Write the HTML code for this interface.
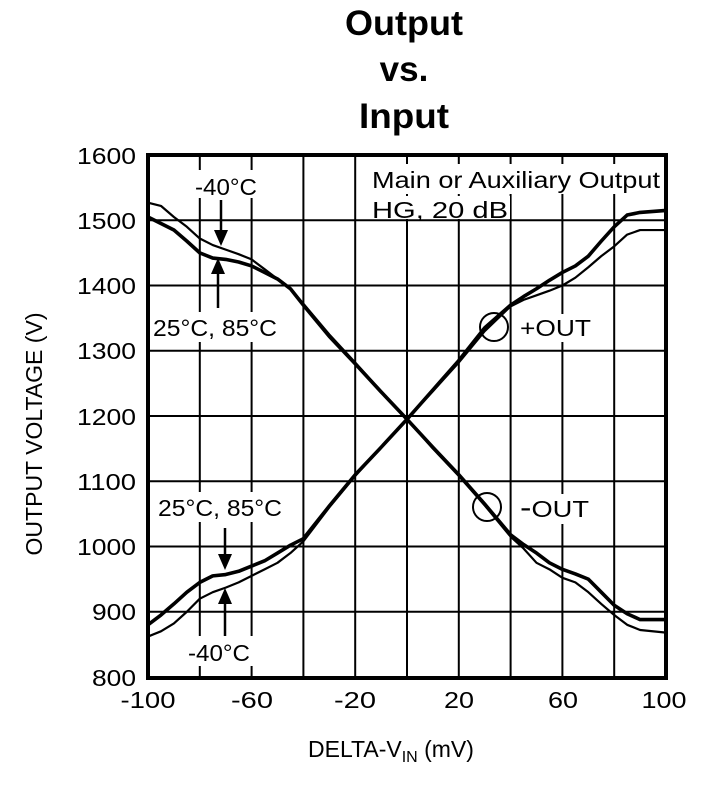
<!DOCTYPE html>
<html><head><meta charset="utf-8"><style>
body{margin:0;background:#fff;}
svg{display:block;font-family:"Liberation Sans","Noto Sans CJK JP",sans-serif;}
</style></head><body>
<svg width="707" height="799" viewBox="0 0 707 799" xmlns="http://www.w3.org/2000/svg">
<rect width="707" height="799" fill="#fff"/>
<g font-weight="bold" font-size="35" text-anchor="middle">
<text x="404" y="35" textLength="118" lengthAdjust="spacingAndGlyphs">Output</text>
<text x="404" y="81">vs.</text>
<text x="404" y="128" textLength="90" lengthAdjust="spacingAndGlyphs">Input</text>
</g>
<g stroke="#000" stroke-width="2">
<line x1="199.8" y1="155" x2="199.8" y2="678"/><line x1="251.6" y1="155" x2="251.6" y2="678"/>
<line x1="303.4" y1="155" x2="303.4" y2="678"/><line x1="355.2" y1="155" x2="355.2" y2="678"/>
<line x1="407" y1="155" x2="407" y2="678"/><line x1="458.8" y1="155" x2="458.8" y2="678"/>
<line x1="510.6" y1="155" x2="510.6" y2="678"/><line x1="562.4" y1="155" x2="562.4" y2="678"/>
<line x1="614.2" y1="155" x2="614.2" y2="678"/>
<line x1="148" y1="220.3" x2="666" y2="220.3"/><line x1="148" y1="285.5" x2="666" y2="285.5"/>
<line x1="148" y1="350.8" x2="666" y2="350.8"/><line x1="148" y1="416" x2="666" y2="416"/>
<line x1="148" y1="481.3" x2="666" y2="481.3"/><line x1="148" y1="546.5" x2="666" y2="546.5"/>
<line x1="148" y1="611.8" x2="666" y2="611.8"/>
</g>
<g fill="#fff">
<rect x="366" y="164" width="298" height="30"/>
<rect x="366" y="196" width="144" height="23"/>
<rect x="190" y="170" width="70" height="28"/>
<rect x="150" y="312" width="132" height="30"/>
<rect x="153" y="492" width="132" height="30"/>
<rect x="184" y="636" width="70" height="30"/>
<rect x="516" y="314" width="80" height="28"/>
<rect x="516" y="494" width="80" height="30"/>
</g>
<rect x="148" y="155" width="518" height="523" fill="none" stroke="#000" stroke-width="4"/>
<g transform="matrix(2.59,0,0,-0.6525,407,1199)" fill="none" stroke="#000" stroke-linejoin="round">
<polyline vector-effect="non-scaling-stroke" stroke-width="2.2" points="-100,1527 -95,1522 -90,1505 -85,1490 -80,1472 -75,1462 -70,1455 -65,1448 -60,1440 -55,1425 -50,1410 -45,1395 -40,1372 -30,1325 -20,1282 -10,1238 0,1195 10,1150 20,1108 30,1063 40,1015 45,997 50,975 55,965 60,952 65,945 70,930 75,912 80,895 85,880 90,872 100,868"/>
<polyline vector-effect="non-scaling-stroke" stroke-width="3.6" points="-100,1505 -95,1495 -90,1485 -85,1468 -80,1450 -75,1442 -70,1440 -65,1436 -60,1430 -55,1420 -50,1410 -45,1395 -40,1370 -30,1322 -20,1280 -10,1237 0,1195 10,1152 20,1110 30,1065 40,1018 45,1003 50,990 55,975 60,965 65,958 70,950 75,930 80,910 85,897 90,888 100,888"/>
<polyline vector-effect="non-scaling-stroke" stroke-width="2.2" points="-100,862 -95,870 -90,882 -85,900 -80,920 -75,930 -70,937 -65,945 -60,955 -55,965 -50,975 -45,990 -40,1008 -30,1060 -20,1108 -10,1152 0,1195 10,1238 20,1282 30,1330 40,1368 45,1378 50,1385 55,1392 60,1400 65,1412 70,1428 75,1445 80,1460 85,1478 90,1485 100,1485"/>
<polyline vector-effect="non-scaling-stroke" stroke-width="3.6" points="-100,880 -95,895 -90,912 -85,930 -80,945 -75,955 -70,957 -65,962 -60,970 -55,978 -50,990 -45,1002 -40,1012 -30,1062 -20,1110 -10,1152 0,1195 10,1240 20,1285 30,1335 40,1370 45,1383 50,1395 55,1408 60,1420 65,1430 70,1445 75,1468 80,1490 85,1508 90,1512 100,1515"/>
</g>
<g fill="none" stroke="#000" stroke-width="2">
<circle cx="494" cy="327" r="14"/>
<circle cx="487" cy="507" r="14"/>
</g>
<g stroke="#000" stroke-width="2.5" fill="#000">
<line x1="221" y1="200" x2="221" y2="232"/><polygon points="214,230 228,230 221,246" stroke="none"/>
<line x1="218" y1="308" x2="218" y2="272"/><polygon points="211,274 225,274 218,258" stroke="none"/>
<line x1="225" y1="528" x2="225" y2="556"/><polygon points="218,554 232,554 225,570" stroke="none"/>
<line x1="225" y1="636" x2="225" y2="602"/><polygon points="218,604 232,604 225,588" stroke="none"/>
</g>
<g font-size="23" fill="#000">
<text x="372" y="188" textLength="288" lengthAdjust="spacingAndGlyphs">Main or Auxiliary Output</text>
<text x="372" y="218" textLength="136" lengthAdjust="spacingAndGlyphs">HG, 20 dB</text>
<text x="195" y="195" textLength="62" lengthAdjust="spacingAndGlyphs">-40°C</text>
<text x="153" y="336" textLength="124" lengthAdjust="spacingAndGlyphs">25°C, 85°C</text>
<text x="158" y="516" textLength="124" lengthAdjust="spacingAndGlyphs">25°C, 85°C</text>
<text x="188" y="661" textLength="62" lengthAdjust="spacingAndGlyphs">-40°C</text>
<text x="520" y="336" textLength="71" lengthAdjust="spacingAndGlyphs">+OUT</text>
<text x="520" y="517" textLength="69" lengthAdjust="spacingAndGlyphs"><tspan font-size="29">-</tspan>OUT</text>
</g>
<g font-size="23" text-anchor="end">
<text x="136" y="164" textLength="59" lengthAdjust="spacingAndGlyphs">1600</text><text x="136" y="229" textLength="59" lengthAdjust="spacingAndGlyphs">1500</text><text x="136" y="294" textLength="59" lengthAdjust="spacingAndGlyphs">1400</text>
<text x="136" y="359" textLength="59" lengthAdjust="spacingAndGlyphs">1300</text><text x="136" y="425" textLength="59" lengthAdjust="spacingAndGlyphs">1200</text><text x="136" y="490" textLength="59" lengthAdjust="spacingAndGlyphs">1100</text>
<text x="136" y="555" textLength="59" lengthAdjust="spacingAndGlyphs">1000</text><text x="136" y="620" textLength="44" lengthAdjust="spacingAndGlyphs">900</text><text x="136" y="686" textLength="44" lengthAdjust="spacingAndGlyphs">800</text>
</g>
<g font-size="23" text-anchor="middle">
<text x="148" y="708" textLength="55" lengthAdjust="spacingAndGlyphs">-100</text><text x="252" y="708" textLength="42" lengthAdjust="spacingAndGlyphs">-60</text><text x="355" y="708" textLength="42" lengthAdjust="spacingAndGlyphs">-20</text>
<text x="459" y="708" textLength="30" lengthAdjust="spacingAndGlyphs">20</text><text x="563" y="708" textLength="30" lengthAdjust="spacingAndGlyphs">60</text><text x="664" y="708" textLength="45" lengthAdjust="spacingAndGlyphs">100</text>
</g>
<text x="308" y="757" font-size="23">DELTA-V<tspan font-size="16" dy="5">IN</tspan><tspan dy="-5"> (mV)</tspan></text>
<text transform="translate(42,434) rotate(-90)" font-size="23" text-anchor="middle" textLength="243" lengthAdjust="spacingAndGlyphs">OUTPUT VOLTAGE (V)</text>
</svg>
</body></html>
